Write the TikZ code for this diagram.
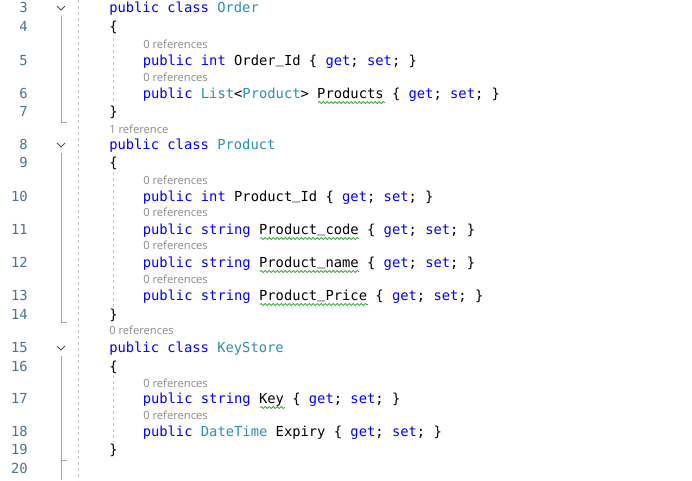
\documentclass[tikz,border=0pt]{standalone}
\usepackage{fontspec}
\setmonofont{DejaVu Sans Mono}
\newfontfamily\lensfam{Open Sans}
\usetikzlibrary{decorations.pathmorphing}
\definecolor{kwblue}{HTML}{0000FF}
\definecolor{tyteal}{HTML}{2B91AF}
\definecolor{lncol}{HTML}{4A7590}
\definecolor{lensgray}{HTML}{8A8A8A}
\definecolor{foldgray}{HTML}{A5A5A5}
\definecolor{guidegray}{HTML}{C8C8C8}
\definecolor{chevgray}{HTML}{505050}
\definecolor{squig}{HTML}{45A845}
\newcommand\kw[1]{\textcolor{kwblue}{#1}}
\newcommand\ty[1]{\textcolor{tyteal}{#1}}
\newcommand\us{\raisebox{1.8pt}{\_}}
\newcommand\codefont{\ttfamily\fontsize{10.35pt}{12pt}\selectfont}
\newcommand\lensfont{\lensfam\fontsize{8.4pt}{10pt}\selectfont}
\tikzset{
  code/.style={anchor=base west, inner sep=0pt, font=\codefont},
  lnum/.style={anchor=base east, inner sep=0pt, font=\codefont, text=lncol},
  lens/.style={anchor=base west, inner sep=0pt, font=\lensfont, text=lensgray},
  fold/.style={draw=foldgray, line width=0.75pt},
  guide/.style={draw=guidegray, line width=0.75pt, dash pattern=on 2.25pt off 2.25pt},
  chev/.style={draw=chevgray, line width=0.75pt},
  wavy/.style={draw=squig, line width=0.6pt, decorate, decoration={snake, segment length=3pt, amplitude=0.8pt}}
}
\begin{document}
\begin{tikzpicture}[x=0.75pt, y=-0.75pt]
\useasboundingbox (0,0) rectangle (692,480);
\fill[white] (0,0) rectangle (692,480);

% line numbers
\foreach \n/\y in {3/12.5,4/31.5,5/65.5,6/98.5,7/116.5,8/149.5,9/167.5,10/201.5,11/234.5,12/267.5,13/300.5,14/319.5,15/352.5,16/371.5,17/403.5,18/436.5,19/454.5,20/473.5}
  \node[lnum] (ln\n) at (28,\y) {\n};

% fold lines
\draw[fold] (61,16) -- (61,122) -- (67,122);
\draw[fold] (61,153) -- (61,322) -- (67,322);
\draw[fold] (61,356) -- (61,480);
\draw[fold] (61,460) -- (67,460);
% chevrons
\draw[chev] (57,6) -- (61,10) -- (65,6);
\draw[chev] (57,143) -- (61,147) -- (65,143);
\draw[chev] (57,346) -- (61,350) -- (65,346);

% separator dashed line
\draw[guide] (78,0) -- (78,480);
% indentation guides
\draw[guide] (113,38) -- (113,104);
\draw[guide] (113,172) -- (113,307);
\draw[guide] (113,375) -- (113,442);

% Order
\node[code] (l3) at (109,12.5) {\kw{public} \kw{class} \ty{Order}};
\node[code] (l4) at (109,31.5) {\{};
\node[lens] (c5) at (143,48.5) {0 references};
\node[code] (l5) at (142.5,65.5) {\kw{public} \kw{int} Order\us Id \{ \kw{get}; \kw{set}; \}};
\node[lens] (c6) at (143,81.5) {0 references};
\node[code] (l6) at (142.5,98.5) {\kw{public} \ty{List}<\ty{Product}> Products \{ \kw{get}; \kw{set}; \}};
\node[code] (l7) at (109,116.5) {\}};
% Product
\node[lens] (c8) at (109,133.5) {1 reference};
\node[code] (l8) at (109,149.5) {\kw{public} \kw{class} \ty{Product}};
\node[code] (l9) at (109,167.5) {\{};
\node[lens] (c10) at (143,184.5) {0 references};
\node[code] (l10) at (142.5,201.5) {\kw{public} \kw{int} Product\us Id \{ \kw{get}; \kw{set}; \}};
\node[lens] (c11) at (143,216.5) {0 references};
\node[code] (l11) at (142.5,234.5) {\kw{public} \kw{string} Product\us code \{ \kw{get}; \kw{set}; \}};
\node[lens] (c12) at (143,249.5) {0 references};
\node[code] (l12) at (142.5,267.5) {\kw{public} \kw{string} Product\us name \{ \kw{get}; \kw{set}; \}};
\node[lens] (c13) at (143,283.5) {0 references};
\node[code] (l13) at (142.5,300.5) {\kw{public} \kw{string} Product\us Price \{ \kw{get}; \kw{set}; \}};
\node[code] (l14) at (109,319.5) {\}};
% KeyStore
\node[lens] (c15) at (109,334.5) {0 references};
\node[code] (l15) at (109,352.5) {\kw{public} \kw{class} \ty{KeyStore}};
\node[code] (l16) at (109,371.5) {\{};
\node[lens] (c17) at (143,387.5) {0 references};
\node[code] (l17) at (142.5,403.5) {\kw{public} \kw{string} Key \{ \kw{get}; \kw{set}; \}};
\node[lens] (c18) at (143,419.5) {0 references};
\node[code] (l18) at (142.5,436.5) {\kw{public} \ty{DateTime} Expiry \{ \kw{get}; \kw{set}; \}};
\node[code] (l19) at (109,454.5) {\}};

% squiggles
\draw[wavy] (318,102.5) -- (385,102.5);
\draw[wavy] (260,238.5) -- (359,238.5);
\draw[wavy] (260,271.5) -- (359,271.5);
\draw[wavy] (260,304.5) -- (368,304.5);
\draw[wavy] (260,407.5) -- (285,407.5);
\end{tikzpicture}
\end{document}
